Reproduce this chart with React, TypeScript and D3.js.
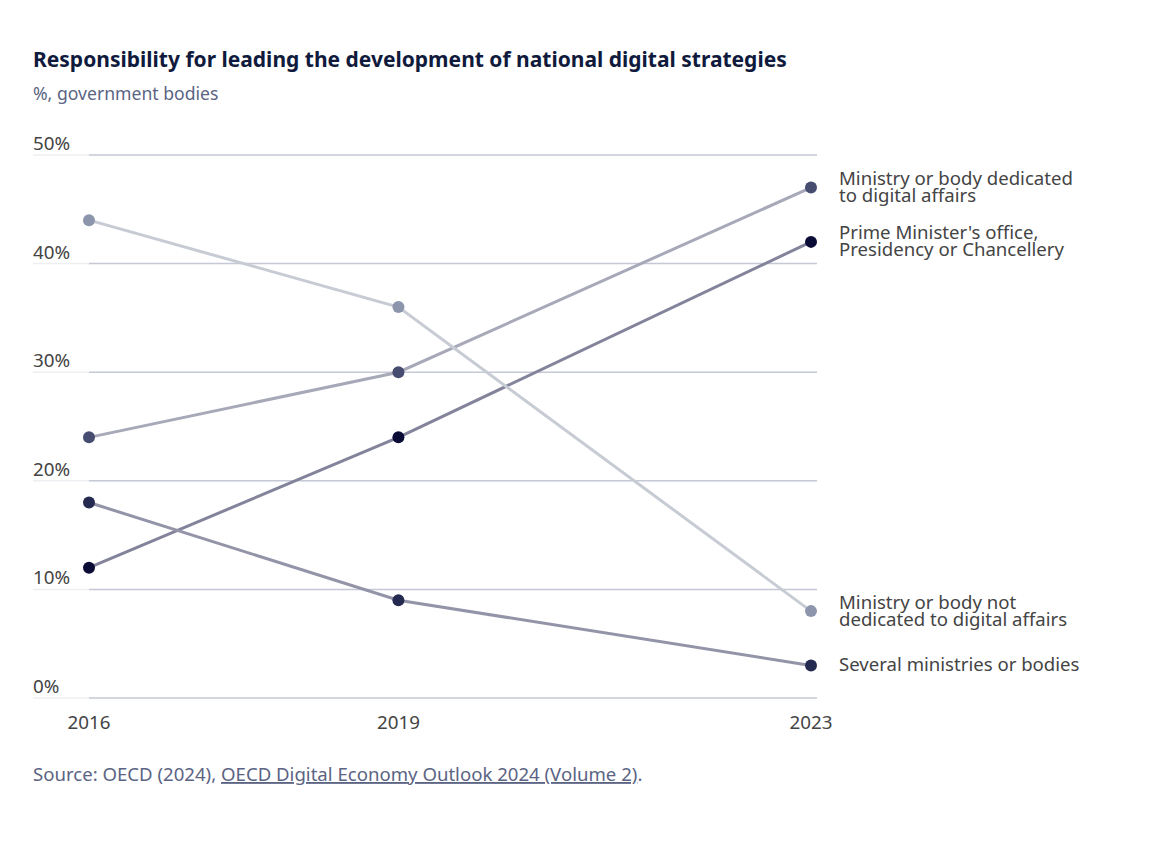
import React from "react";
import * as d3 from "d3";

const years = [2016, 2019, 2023];
const seriesNames = [
  "Ministry or body dedicated|to digital affairs",
  "Prime Minister's office,|Presidency or Chancellery",
  "Ministry or body not|dedicated to digital affairs",
  "Several ministries or bodies",
];
const dedicated = [24, 30, 47];
const primeMinister = [12, 24, 42];
const notDedicated = [44, 36, 8];
const several = [18, 9, 3];
const yTicks = [0, 10, 20, 30, 40, 50];

// line colour, marker colour
const lineColors = ["#a7a9b9", "#83849b", "#c7cbd4", "#9394a8"];
const dotColors = ["#474d70", "#0a0c36", "#8c95ab", "#252a50"];

const W = 1166;
const H = 864;
const FONT = "'Noto Sans', sans-serif";

const x = d3.scaleLinear().domain([2016, 2023]).range([89, 811]);
const y = d3.scaleLinear().domain([0, 50]).range([698, 155]);

const allSeries = [dedicated, primeMinister, notDedicated, several];

const line = d3
  .line<number>()
  .x((_, i) => x(years[i]))
  .y((d) => y(d));

export default function App() {
  return (
    <svg
      width={W}
      height={H}
      style={{ position: "absolute", left: 0, top: 0, background: "#fff" }}
      fontFamily={FONT}
    >
      <text x={33} y={67} fontSize={21} fontWeight={700} fill="#101a3c">
        Responsibility for leading the development of national digital strategies
      </text>
      <text x={33} y={100} fontSize={17.6} fill="#5b6483">
        %, government bodies
      </text>

      {/* grid */}
      {yTicks.map((t) => (
        <g key={t}>
          <line x1={33} x2={89} y1={y(t)} y2={y(t)} stroke="#eeeff2" strokeWidth={1.5} />
          <line x1={89} x2={817} y1={y(t)} y2={y(t)} stroke="#c5c8d5" strokeWidth={1.5} />
          <text x={33} y={y(t) - 5} fontSize={18.8} fill="#444">
            {t}%
          </text>
        </g>
      ))}

      {years.map((yr) => (
        <text key={yr} x={x(yr)} y={729} fontSize={18.8} fill="#444" textAnchor="middle">
          {yr}
        </text>
      ))}

      {/* lines */}
      {allSeries.map((s, i) => (
        <path key={i} d={line(s) ?? ""} fill="none" stroke={lineColors[i]} strokeWidth={3} />
      ))}
      {allSeries.map((s, i) => (
        <g key={i}>
          {s.map((v, j) => (
            <circle key={j} cx={x(years[j])} cy={y(v)} r={6} fill={dotColors[i]} />
          ))}
        </g>
      ))}

      {/* end labels */}
      {allSeries.map((s, i) => {
        const parts = seriesNames[i].split("|");
        const cy = y(s[s.length - 1]);
        const top = cy - ((parts.length - 1) * 17) / 2;
        return (
          <text key={i} x={839} fontSize={18.6} fill="#444">
            {parts.map((p, k) => (
              <tspan key={k} x={839} y={top + k * 17 + 6}>
                {p}
              </tspan>
            ))}
          </text>
        );
      })}

      <text x={33} y={781} fontSize={18.6} fill="#5b6483">
        Source: OECD (2024),{" "}
        <tspan textDecoration="underline">OECD Digital Economy Outlook 2024 (Volume 2)</tspan>.
      </text>
    </svg>
  );
}
